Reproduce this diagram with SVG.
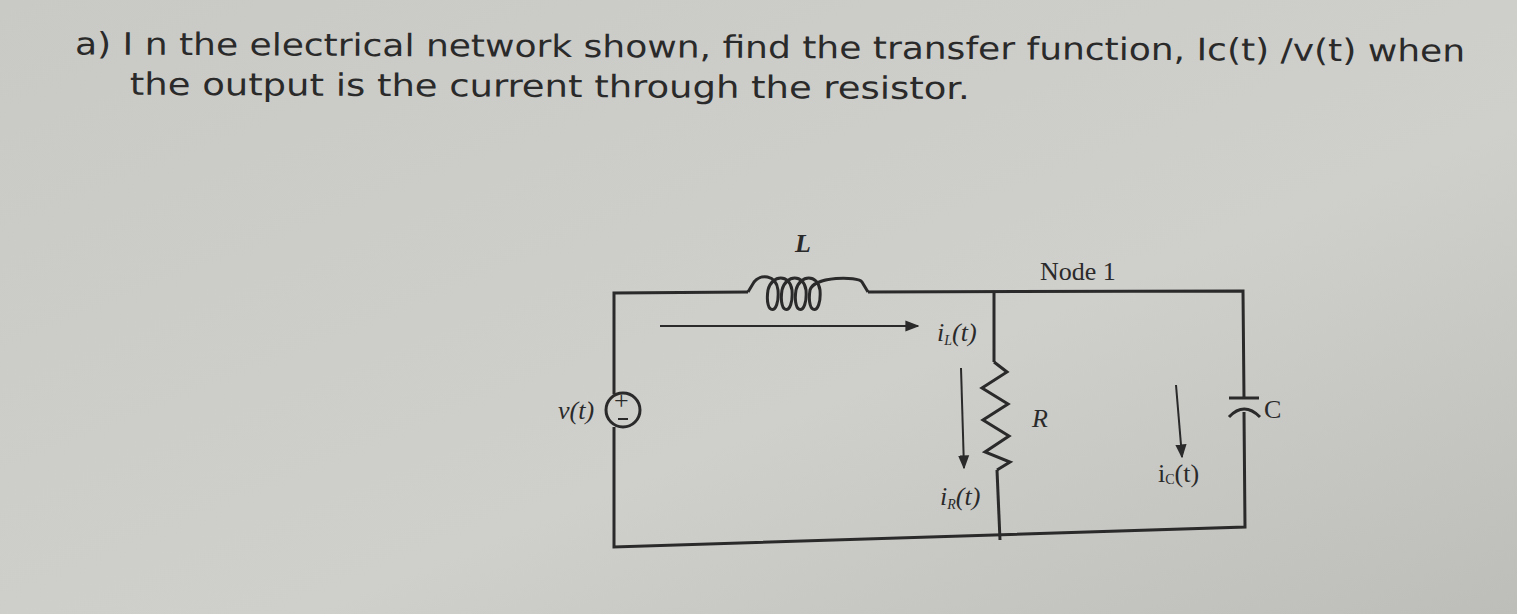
<svg xmlns="http://www.w3.org/2000/svg" width="1517" height="614" viewBox="0 0 1517 614">
<defs>
<linearGradient id="bg" x1="0" y1="0" x2="1" y2="1"><stop offset="0" stop-color="#c9c9c6"/><stop offset="0.6" stop-color="#cfcfcc"/><stop offset="1" stop-color="#bdbdba"/></linearGradient>
<marker id="ah" viewBox="0 0 10 10" refX="9" refY="5" markerWidth="7" markerHeight="7" orient="auto"><path d="M0,1 L10,5 L0,9 z" fill="#2a2a2a"/></marker>
</defs>
<style>
.w{fill:none;stroke:#2a2a2a;stroke-width:3}
.a{fill:none;stroke:#2a2a2a;stroke-width:2;marker-end:url(#ah)}
.t{font-family:"Liberation Serif",serif;fill:#2a2a2a;font-size:26px}
.h{font-family:"DejaVu Sans",sans-serif;fill:#2a2a2a;font-size:31px}
</style>
<rect width="1517" height="614" fill="url(#bg)"/>
<g transform="rotate(0.3 760 60)">
<text class="h" x="75" y="58" textLength="1390" lengthAdjust="spacingAndGlyphs">a) I n the electrical network shown, find the transfer function, Ic(t) /v(t)  when</text>
<text class="h" x="130" y="98" textLength="840" lengthAdjust="spacingAndGlyphs">the output is the current through the resistor.</text>
</g>
<g id="wires">
<polyline class="w" points="614,394 614,293 748,292"/>
<polyline class="w" points="868,292 1243,291 1244,398"/>
<polyline class="w" points="1244,412 1245,527 614,547 614,427"/>
<polyline class="w" points="994,292 994,362"/>
<polyline class="w" points="997,470 1000,540"/>
</g>
<g id="source"><circle cx="623" cy="410" r="17" class="w"/><text class="t" x="614" y="409" font-size="22">+</text><line x1="618" y1="419" x2="628" y2="419" stroke="#2a2a2a" stroke-width="2"/><text class="t" x="558" y="419" font-style="italic" font-size="22">v(t)</text></g>
<g id="inductor"><path class="w" d="M748,292 L754,282 C760,274 776,274 778,290 C780,316 764,316 768,290 C772,274 790,274 792,290 C794,316 778,316 782,290 C786,274 804,274 806,290 C808,316 792,316 796,290 C800,274 818,274 820,290 C822,316 806,316 810,290 C814,276 858,276 862,282 L868,292"/><text class="t" x="795" y="252" font-style="italic" font-weight="bold">L</text></g>
<g id="resistor"><polyline class="w" points="994,362 1007,372 982,388 1008,404 983,420 1009,436 985,452 1010,462 997,470"/><text class="t" x="1032" y="427" font-style="italic">R</text></g>
<g id="capacitor"><line class="w" x1="1229" y1="398" x2="1259" y2="398"/><path class="w" d="M1229,417 Q1244,401 1260,417"/><text class="t" x="1264" y="418" font-family="Liberation Sans" font-size="24">C</text></g>
<g id="node1"><text class="t" x="1040" y="280">Node 1</text></g>
<g id="connectors">
<line class="a" x1="660" y1="326" x2="918" y2="326"/>
<line class="a" x1="961" y1="368" x2="964" y2="468"/>
<line class="a" x1="1176" y1="385" x2="1182" y2="457"/>
</g>
<text class="t" x="937" y="341" font-style="italic" font-size="22">i<tspan font-size="14" dy="4">L</tspan><tspan dy="-4">(t)</tspan></text>
<text class="t" x="940" y="505" font-style="italic" font-size="22">i<tspan font-size="14" dy="4">R</tspan><tspan dy="-4">(t)</tspan></text>
<text class="t" x="1158" y="482" font-size="22">i<tspan font-size="14" dy="2">C</tspan><tspan dy="-2">(t)</tspan></text>
</svg>
